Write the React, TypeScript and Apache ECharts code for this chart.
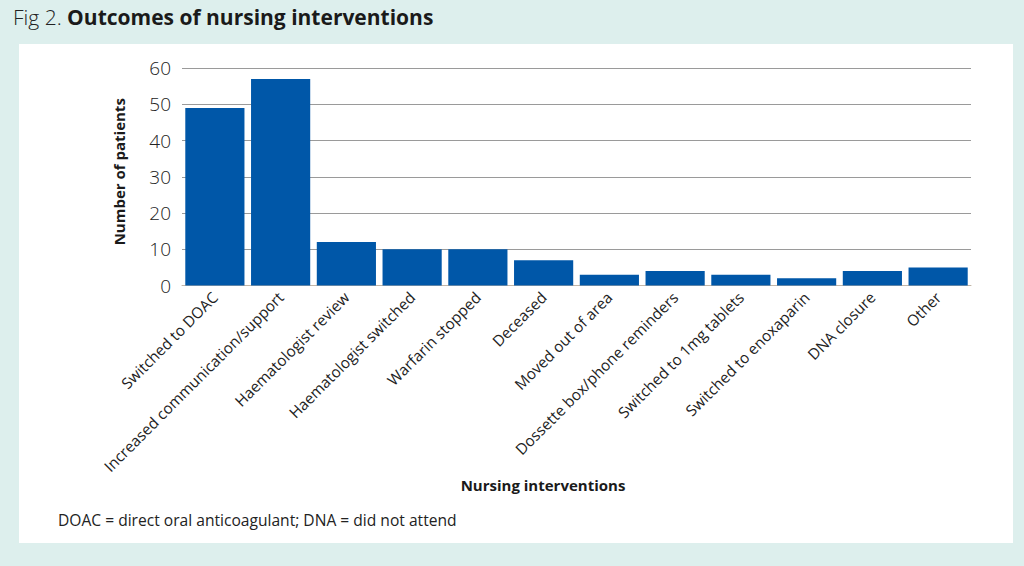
import React, { useEffect, useRef } from "react";
import * as echarts from "echarts";

const categories = [
  "Switched to DOAC",
  "Increased communication/support",
  "Haematologist review",
  "Haematologist switched",
  "Warfarin stopped",
  "Deceased",
  "Moved out of area",
  "Dossette box/phone reminders",
  "Switched to 1mg tablets",
  "Switched to enoxaparin",
  "DNA closure",
  "Other",
];
const patients = [49, 57, 12, 10, 10, 7, 3, 4, 3, 2, 4, 5];
const yTicks = [0, 10, 20, 30, 40, 50, 60];

const FONT = "'Open Sans', Lato, sans-serif";

export default function App() {
  const ref = useRef<HTMLDivElement>(null);
  useEffect(() => {
    if (!ref.current) return;
    const chart = echarts.init(ref.current, null, { renderer: "svg" });
    chart.setOption({
      animation: false,
      backgroundColor: "#ddefed",
      graphic: [
        {
          type: "rect",
          z: -10,
          shape: { x: 19, y: 44, width: 994, height: 499 },
          style: { fill: "#ffffff" },
        },
        {
          type: "text",
          x: 13,
          y: 6,
          style: {
            text: "{a|Fig 2. }{b|Outcomes of nursing interventions}",
            rich: {
              a: { fontFamily: FONT, fontSize: 21, fontWeight: 300, fill: "#222" },
              b: { fontFamily: FONT, fontSize: 21, fontWeight: "bold", fill: "#1a1a1a" },
            },
          },
        },
        {
          type: "text",
          x: 543,
          y: 485,
          style: {
            text: "Nursing interventions",
            fontFamily: FONT,
            fontSize: 15,
            fontWeight: "bold",
            fill: "#1a1a1a",
            align: "center",
            verticalAlign: "middle",
          },
        },
        {
          type: "text",
          x: 58,
          y: 512,
          style: {
            text: "DOAC = direct oral anticoagulant; DNA = did not attend",
            fontFamily: FONT,
            fontSize: 15.6,
            fill: "#222",
          },
        },
      ],
      grid: { left: 182, right: 53, top: 68, bottom: 280.5, containLabel: false },
      xAxis: {
        type: "category",
        data: categories,
        axisLine: { show: true, lineStyle: { color: "#c2b6a8", width: 1 } },
        axisTick: { show: false },
        axisLabel: {
          interval: 0,
          rotate: 45,
          margin: 9,
          fontFamily: FONT,
          fontSize: 15.3,
          color: "#222",
        },
      },
      yAxis: {
        type: "value",
        min: 0,
        max: 60,
        interval: 10,
        name: "Number of patients",
        nameLocation: "middle",
        nameGap: 56,
        nameTextStyle: { fontFamily: FONT, fontSize: 15, fontWeight: "bold", color: "#1a1a1a", padding: [0, 0, 0, 10] },
        axisLine: { show: false },
        axisTick: { show: false },
        splitLine: { show: true, lineStyle: { color: "#9a9a9a", width: 1 } },
        axisLabel: {
          fontFamily: FONT,
          fontSize: 19,
          fontWeight: 300,
          color: "#222",
          margin: 11,
          formatter: (v: number) => (yTicks.includes(v) ? String(v) : ""),
        },
      },
      series: [
        {
          type: "bar",
          data: patients,
          barCategoryGap: "10%",
          itemStyle: { color: "#0057a8" },
        },
      ],
    });
    return () => chart.dispose();
  }, []);
  return (
    <div
      ref={ref}
      style={{ position: "absolute", left: 0, top: 0, width: 1024, height: 566 }}
    />
  );
}
